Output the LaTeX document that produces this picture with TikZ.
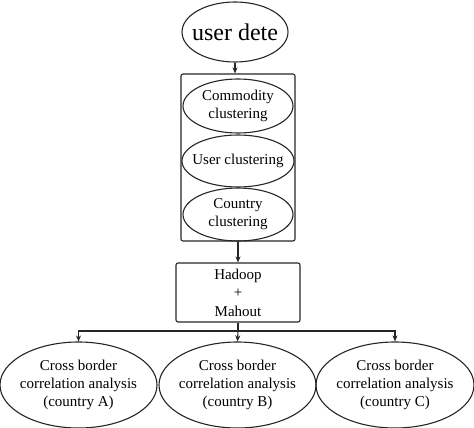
\documentclass[tikz,border=0pt]{standalone}
\usepackage{fontspec}
\setmainfont{Liberation Serif}
\usetikzlibrary{shapes.geometric,arrows.meta}
\begin{document}
\begin{tikzpicture}[x=1pt,y=-1pt,
  line width=1.1pt,
  ell/.style={draw=black!85,ellipse,inner sep=0pt},
  txt/.style={align=center,font=\fontsize{15}{18}\selectfont,inner sep=0pt},
  box/.style={draw=black!85,rectangle,rounded corners=2pt,inner sep=0pt},
  arr/.style={draw=black!85,-{Stealth[length=6pt,width=5pt]}}]
\useasboundingbox (0,0) rectangle (474,428);
\node[ell,minimum width=106pt,minimum height=60pt] (top) at (235,32) {};
\node[txt,font=\fontsize{24}{28}\selectfont] (topt) at (top.center) {user dete};
\node[box,minimum width=114pt,minimum height=167pt] (cont) at (238,157.5) {};
\node[ell,minimum width=110pt,minimum height=54pt] (comm) at (238,106) {};
\node[txt] (commt) at (comm.center) {Commodity\\clustering};
\node[ell,minimum width=112pt,minimum height=52pt] (user) at (238,161) {};
\node[txt] (usert) at (user.center) {User clustering};
\node[ell,minimum width=110pt,minimum height=53pt] (ctry) at (238,214.5) {};
\node[txt] (ctryt) at (ctry.center) {Country\\clustering};
\node[box,minimum width=124pt,minimum height=59pt,align=center,font=\fontsize{15}{18.5}\selectfont] (hm) at (238,292.5) {Hadoop\\+\\Mahout};
\node[ell,minimum width=157pt,minimum height=86pt] (A) at (78.5,385) {};
\node[txt] (At) at (A.center) {Cross border\\correlation analysis\\(country A)};
\node[ell,minimum width=157pt,minimum height=86pt] (B) at (237.5,385) {};
\node[txt] (Bt) at (B.center) {Cross border\\correlation analysis\\(country B)};
\node[ell,minimum width=158pt,minimum height=86pt] (C) at (395,385) {};
\node[txt] (Ct) at (C.center) {Cross border\\correlation analysis\\(country C)};
\draw[arr] (top.south) -- (top.south |- cont.north);
\draw[arr] (cont.south) -- (hm.north);
\coordinate (j) at (238,331);
\draw[draw=black!85] (hm.south) -- (j);
\draw[arr] (j) -| (A.north);
\draw[arr] (j) -- (B.north);
\draw[arr] (j) -| (C.north);
\end{tikzpicture}
\end{document}
